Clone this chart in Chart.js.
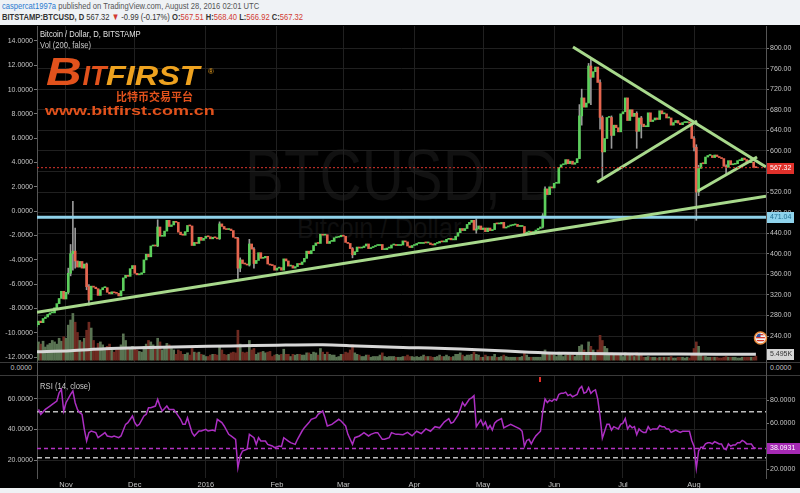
<!DOCTYPE html>
<html>
<head>
<meta charset="utf-8">
<script src="https://cdn.jsdelivr.net/npm/chart.js@4.4.0/dist/chart.umd.min.js"></script>
<style>
html, body { margin: 0; padding: 0; }
body { width: 800px; height: 493px; overflow: hidden; background: #000; position: relative; font-family: "Liberation Sans", Arial, sans-serif; }
.abs { position: absolute; white-space: nowrap; }
.sq { transform-origin: 0 50%; }
#hdr { left: 0; top: 0; width: 800px; height: 25px; background: #eff2f5; }
#hdr .l1 { left: 2px; top: 0px; font-size: 9.5px; color: #555; transform: scaleX(.8); }
#hdr .l2 { left: 2px; top: 11px; font-size: 9.5px; color: #333; transform: scaleX(.8); }
#hdr .u { color: #2a7bd0; }
#hdr .r { color: #d23a32; }
.wm { color: #111; font-weight: normal; }
.logo span { font-weight: bold; font-style: italic; }
.axl { font-size: 7px; color: #c4c4c4; }
.hline { height: 1px; background: #3a3a3a; }
</style>
</head>
<body>
<div id="hdr" class="abs">
  <div class="abs sq l1"><span class="u">caspercat1997a</span> published on TradingView.com, August 28, 2016 02:01 UTC</div>
  <div class="abs sq l2"><b>BITSTAMP:BTCUSD, D</b> 567.32 <span class="r">&#9660;</span> -0.99 (-0.17%) <b>O:</b><span class="r">567.51</span> <b>H:</b><span class="r">568.40</span> <b>L:</b><span class="r">566.92</span> <b>C:</b><span class="r">567.32</span></div>
</div>

<div class="abs sq wm" style="left:245px;top:134px;font-size:72px;transform:scaleX(.81)">BTCUSD, D</div>
<div class="abs sq wm" style="left:297px;top:211px;font-size:30px;transform:scaleX(.85);color:#0f0f0f">Bitcoin / Dollar</div>

<canvas id="main" class="abs" width="800" height="336" style="left:0;top:26px"></canvas>

<div class="abs sq" style="left:40px;top:29px;font-size:9px;color:#e0e0e0;transform:scaleX(.85)">Bitcoin / Dollar, D, BITSTAMP</div>
<div class="abs sq" style="left:40px;top:40px;font-size:9px;color:#c8c8c8;transform:scaleX(.85)">Vol (200, false)</div>

<div class="abs logo" style="left:46px;top:52px;line-height:40px">
  <span style="font-size:38px;color:#e2521c;display:inline-block;transform:scaleX(1.3);transform-origin:0 50%;margin-right:9px">B</span><span style="font-size:27px;color:#e2521c">IT</span><span style="font-size:27px;color:#eea21f;display:inline-block;transform:scaleX(1.2);transform-origin:0 50%">FIRST</span>
</div>
<div class="abs" style="left:208px;top:67px;font-size:8px;color:#eea21f">&reg;</div>
<div class="abs" style="left:116px;top:90px;font-size:11px;font-weight:bold;color:#e2521c;font-family:'Noto Sans CJK SC',sans-serif;line-height:13px">比特币交易平台</div>
<div class="abs sq" style="left:45px;top:103px;font-size:13px;font-weight:bold;color:#e2521c;transform:scaleX(1.38)">www.bitfirst.com.cn</div>

<div class="abs hline" style="left:0;top:362px;width:800px"></div>
<div class="abs hline" style="left:0;top:375px;width:800px"></div>
<div class="abs" style="left:37px;top:362px;width:1px;height:14px;background:#555"></div>
<div class="abs" style="left:766px;top:362px;width:1px;height:14px;background:#555"></div>
<div class="abs axl" style="left:0;width:32px;text-align:right;top:364px">0.0000</div>
<div class="abs axl" style="left:770px;top:364px">0.0000</div>

<canvas id="rsi" class="abs" width="800" height="112" style="left:0;top:376px"></canvas>
<div class="abs sq" style="left:40px;top:381px;font-size:9px;color:#c8c8c8;transform:scaleX(.85)">RSI (14, close)</div>

<div class="abs" style="left:0;top:488px;width:800px;height:5px;background:#eff2f5"></div>

<script>
// daily closes, Oct 19 2015 (day 0) .. Aug 28 2016 (day 314)
const closes = [
  // Oct 19-31
  262, 269, 266, 274, 277, 282, 285, 285, 295, 303, 313, 327, 312,
  // Nov
  325, 362, 400, 405, 386, 374, 385, 372, 380, 336, 310, 337, 335, 332, 319,
  330, 334, 334, 325, 322, 326, 324, 323, 318, 328, 353, 358, 356, 371, 377,
  // Dec
  362, 359, 360, 363, 388, 399, 394, 415, 417, 415, 452, 434, 434, 444, 465, 453,
  456, 463, 461, 442, 437, 436, 443, 455, 454, 416, 422, 420, 432, 426, 430,
  // Jan
  434, 433, 429, 432, 431, 429, 458, 453, 448, 447, 448, 445, 432, 430, 372, 388,
  381, 380, 378, 419, 409, 381, 387, 402, 391, 392, 395, 380, 378, 377, 368,
  // Feb
  372, 373, 368, 390, 386, 376, 377, 372, 375, 381, 379, 384, 391, 405, 400,
  406, 416, 421, 420, 438, 436, 437, 420, 424, 424, 431, 432, 433, 436,
  // Mar
  434, 422, 420, 410, 398, 404, 413, 411, 412, 415, 419, 410, 412, 414, 416, 416,
  418, 408, 408, 411, 411, 417, 418, 416, 416, 417, 425, 423, 415, 412, 416,
  // Apr
  417, 420, 420, 420, 422, 421, 421, 418, 417, 420, 421, 424, 423, 423, 428,
  430, 427, 427, 434, 441, 449, 445, 449, 457, 461, 465, 446, 448, 454, 447,
  // May
  450, 443, 450, 445, 447, 459, 458, 458, 461, 450, 452, 454, 455, 456, 457, 453,
  453, 453, 437, 442, 443, 438, 443, 446, 449, 452, 474, 526, 515, 530, 528,
  // Jun
  537, 537, 568, 573, 574, 583, 575, 580, 574, 577, 585, 668, 703, 685, 693,
  765, 743, 754, 763, 733, 665, 598, 624, 665, 665, 630, 650, 645, 637, 672,
  // Jul
  676, 703, 659, 680, 667, 673, 638, 664, 652, 647, 647, 674, 657, 660, 664, 661,
  678, 672, 672, 664, 664, 650, 655, 659, 654, 651, 655, 655, 656, 654, 624,
  // Aug 1-28
  607, 520, 566, 576, 575, 588, 591, 591, 587, 592, 589, 587, 585, 570, 568,
  581, 573, 574, 575, 581, 581, 586, 583, 579, 577, 578, 567.51, 567.32
];
const firstOpen = 258;

// visible wicks: [day, low, high]
const wicks = [
  [14, 322, 372], [15, 357, 418], [16, 368, 502], [17, 372, 450], [22, 330, 382],
  [23, 300, 340], [53, 414, 466], [80, 428, 462], [88, 352, 432], [89, 365, 392],
  [93, 376, 428], [95, 372, 412], [138, 392, 412], [192, 440, 468], [221, 450, 478],
  [222, 472, 530], [237, 585, 690], [238, 650, 720], [241, 695, 770], [242, 690, 778],
  [246, 642, 738], [247, 545, 668], [251, 605, 668], [262, 605, 676], [264, 625, 667],
  [287, 600, 628], [288, 465, 612], [289, 513, 572], [301, 553, 573]
];

// daily volume, thousands of BTC
const volumes = [
  19, 25, 22, 26, 18, 21, 23, 27, 25, 22, 30, 26, 32,
  30, 48, 55, 64, 52, 38, 27, 25, 30, 41, 52, 44, 27, 16, 23,
  25, 21, 16, 19, 22, 14, 11, 14, 16, 21, 36, 27, 15, 16, 19,
  16, 14, 12, 11, 19, 22, 27, 25, 21, 16, 30, 25, 14, 19, 23, 21,
  16, 14, 8, 14, 12, 8, 8, 10, 7, 16, 11, 10, 11, 8, 7,
  5, 5, 7, 8, 8, 7, 19, 14, 8, 7, 8, 10, 11, 10, 41, 22,
  11, 10, 11, 27, 14, 16, 8, 10, 11, 12, 10, 11, 12, 5, 7,
  8, 7, 8, 15, 8, 8, 5, 8, 7, 8, 8, 7, 7, 10, 10,
  8, 11, 10, 7, 16, 11, 8, 11, 8, 7, 7, 4, 5, 8,
  8, 11, 10, 14, 21, 10, 8, 7, 5, 5, 7, 7, 4, 5, 5, 5,
  7, 10, 5, 4, 5, 5, 5, 4, 4, 4, 5, 5, 7, 5, 5,
  4, 5, 4, 5, 7, 5, 5, 5, 4, 4, 5, 7, 5, 5, 7,
  5, 4, 5, 8, 8, 10, 7, 5, 7, 7, 8, 11, 8, 7, 4,
  4, 7, 5, 5, 5, 8, 4, 4, 5, 7, 5, 4, 4, 4, 4, 4,
  4, 5, 11, 7, 4, 4, 4, 4, 4, 4, 11, 14, 10, 8, 10,
  7, 5, 11, 8, 5, 7, 10, 7, 7, 5, 8, 19, 21, 14, 11,
  25, 19, 14, 8, 14, 34, 27, 19, 16, 8, 10, 8, 8, 7, 7,
  5, 10, 8, 7, 7, 5, 10, 7, 7, 4, 4, 5, 4, 4, 4, 3,
  4, 4, 4, 4, 4, 5, 3, 3, 4, 4, 4, 3, 4, 3, 7,
  16, 25, 19, 8, 5, 5, 4, 4, 4, 4, 4, 3, 3, 4, 5,
  4, 4, 4, 4, 3, 3, 4, 4, 4, 4, 4, 4, 5.495
];

// Vol (200) average: [day, thousands]
const volAverage = [
  [0, 11.5], [15, 13], [30, 15.5], [45, 17], [65, 18.5], [85, 19.5], [105, 20.5],
  [125, 21], [140, 19.5], [160, 17.5], [175, 16.5], [195, 14], [215, 11],
  [230, 9.5], [250, 8.8], [280, 8.4], [314, 8.2]
];

// RSI (14): [day, value]
const rsiSeries = [
  [1, 72], [2, 67.7], [4, 72], [6, 74.9], [7, 76.4], [9, 79.3], [10, 86.5], [11, 89.4],
  [12, 70.6], [13, 77.8], [15, 85.1], [16, 88], [17, 77.8], [18, 72], [19, 69.2], [20, 67.7],
  [21, 54.7], [22, 44.5], [23, 51.8], [24, 53.2], [26, 51.8], [27, 47.4], [29, 50.3], [30, 51.8],
  [31, 48.9], [33, 48], [34, 48.9], [36, 47.4], [37, 48.9], [39, 59], [40, 60.5], [42, 66.3],
  [43, 60.5], [44, 57.6], [45, 59], [47, 66.3], [48, 67.7], [49, 73.5], [50, 73.5], [52, 74.9],
  [53, 80.7], [54, 74.9], [55, 70.6], [57, 74.9], [58, 72], [60, 72], [61, 69.2], [63, 63.4],
  [64, 59], [65, 59], [66, 64.8], [68, 51.8], [69, 48.9], [71, 53.2], [72, 53.2], [74, 54.7],
  [75, 53.2], [77, 54.1], [78, 53.2], [79, 63.4], [81, 60.5], [82, 57.6], [84, 50.3], [85, 48.9],
  [87, 46], [88, 21.3], [89, 31.5], [90, 35.8], [92, 37.3], [93, 50.3], [95, 47.4], [96, 41.6],
  [97, 47.4], [98, 44.5], [100, 44.5], [101, 41.6], [103, 40.2], [104, 38.7], [106, 40.2], [107, 39.6],
  [108, 47.4], [110, 44.5], [111, 43.1], [113, 41.6], [114, 46], [116, 53.2], [117, 56.1], [119, 60.5],
  [120, 63.4], [122, 64.8], [123, 67.7], [125, 70.6], [126, 64.8], [127, 57.6], [129, 59], [130, 60.5],
  [132, 63.4], [133, 61.9], [135, 57.6], [136, 50.3], [138, 41.6], [139, 47.4], [141, 48.9], [142, 50.3],
  [143, 51.8], [145, 48.9], [146, 50.3], [148, 51.8], [149, 51.8], [151, 46], [152, 46], [154, 47.4],
  [155, 51.8], [157, 50.3], [158, 50.3], [160, 50], [162, 52], [164, 49], [166, 53], [168, 51],
  [170, 55], [172, 53], [174, 57], [176, 56], [178, 61], [180, 64], [181, 60], [182, 61],
  [184, 67], [185, 72], [186, 78], [187, 75], [188, 78], [189, 81], [190, 82], [191, 84],
  [192, 57], [193, 60], [194, 63], [195, 58], [196, 61], [197, 55], [198, 58], [199, 54],
  [200, 60], [201, 62], [203, 64], [204, 56], [205, 57], [207, 59], [209, 57], [211, 55],
  [212, 53], [213, 40], [214, 45], [215, 46], [216, 42], [217, 46], [218, 49], [219, 51],
  [220, 53], [221, 70], [222, 81], [223, 78], [224, 80], [225, 79], [226, 81], [227, 80],
  [228, 85], [229, 86], [230, 86], [231, 87], [232, 84], [233, 85], [234, 83], [235, 84],
  [236, 85], [237, 90], [238, 92], [239, 86], [240, 87], [241, 91], [242, 86], [243, 88],
  [244, 89], [245, 81], [246, 66], [247, 47], [248, 53], [249, 59], [250, 59], [251, 54],
  [252, 57], [253, 56], [254, 55], [255, 59], [256, 60], [257, 64], [258, 55], [259, 58],
  [260, 56], [261, 57], [262, 50], [263, 55], [264, 53], [265, 52], [266, 52], [267, 57],
  [268, 54], [269, 55], [270, 55], [271, 55], [272, 58], [273, 57], [274, 57], [275, 55],
  [276, 55], [277, 52], [278, 53], [279, 54], [280, 53], [281, 52], [282, 53], [283, 53],
  [284, 53], [285, 53], [286, 45], [287, 40], [288, 21], [289, 36], [290, 39], [291, 39],
  [292, 42], [293, 43], [294, 43], [295, 42], [296, 44], [297, 43], [298, 42], [299, 42],
  [300, 38], [301, 37], [302, 42], [303, 40], [304, 41], [305, 41], [306, 43], [307, 43],
  [308, 45], [309, 44], [310, 42], [311, 42], [312, 42], [313, 39], [314, 38.0931]
];
const rsiBands = [70, 30];

// drawn trend lines: [day1, price1, day2, price2]
const trendLines = [
  [0.35, 286.4, 318.4, 512],
  [234.2, 802, 318.4, 568.5],
  [244.7, 539, 288.3, 658],
  [288.7, 522, 314.5, 588]
];
const levelPrice = 471.04;

const monthStarts = [13, 43, 74, 105, 134, 165, 195, 226, 256, 287];
const monthNames = ['Nov', 'Dec', '2016', 'Feb', 'Mar', 'Apr', 'May', 'Jun', 'Jul', 'Aug'];
const priceTicks = [240, 280, 320, 360, 400, 440, 480, 520, 560, 600, 640, 680, 720, 760, 800];
const leftTicks = [-12, -10, -8, -6, -4, -2, 0, 2, 4, 6, 8, 10, 12, 14];
const rsiRightTicks = [20, 40, 60, 80];
const rsiLeftTicks = [20, 40, 60];
const eventDay = 220;
const flagDay = 316;

// view ranges
const xMin = 0.35, xMax = 318.4;
const gridColor = '#202020';
const tickColor = '#c4c4c4';
const tickFont = { family: 'Liberation Sans', size: 7 };
const upColor = '#5ccf5c', downColor = '#e5654f';

const opens = closes.map((c, i) => i ? closes[i - 1] : firstOpen);
const up = closes.map((c, i) => c >= opens[i]);
const lastClose = closes[closes.length - 1];
const lastVol = volumes[volumes.length - 1];
const lastRsi = rsiSeries[rsiSeries.length - 1][1];

const setTicks = list => s => { s.ticks = list.map(v => ({ value: v })); };
const noPad = w => s => { s.width = w; s.paddingTop = 0; s.paddingBottom = 0; };
const flat = (y, extra) => Object.assign({
  type: 'line', data: [{ x: xMin, y: y }, { x: xMax, y: y }],
  pointRadius: 0, tension: 0
}, extra);

function tag(ctx, x, y, w, text, bg, fg) {
  ctx.fillStyle = bg;
  ctx.fillRect(x, Math.round(y) - 5, w, 11);
  ctx.fillStyle = fg;
  ctx.font = '7px "Liberation Sans"';
  ctx.textBaseline = 'middle';
  ctx.textAlign = 'left';
  ctx.fillText(text, x + 3, Math.round(y) + 0.5);
}

const mainTags = {
  id: 'mainTags',
  afterDraw(chart) {
    const { ctx, chartArea, scales } = chart;
    const x = chartArea.right + 1;
    tag(ctx, x, scales.yPrice.getPixelForValue(lastClose), 27, lastClose.toFixed(2), '#e0302a', '#fff');
    tag(ctx, x, scales.yPrice.getPixelForValue(levelPrice), 27, levelPrice.toFixed(2), '#8fd3ec', '#1f6f92');
    tag(ctx, x, scales.yVol.getPixelForValue(lastVol) - 2, 27, (lastVol).toFixed(3) + 'K', '#d6d6d6', '#333');
    // economic event flag
    const fx = scales.x.getPixelForValue(flagDay), fy = chartArea.bottom - 24;
    ctx.beginPath(); ctx.arc(fx, fy, 6, 0, Math.PI * 2);
    ctx.fillStyle = '#f4f4f4'; ctx.fill();
    ctx.lineWidth = 1.5; ctx.strokeStyle = '#e8893a'; ctx.stroke();
    ctx.save(); ctx.beginPath(); ctx.arc(fx, fy, 4.5, 0, Math.PI * 2); ctx.clip();
    ctx.fillStyle = '#d8382c';
    for (let k = -4; k <= 4; k += 3) ctx.fillRect(fx - 5, fy + k, 10, 1.3);
    ctx.fillStyle = '#2c4f9e'; ctx.fillRect(fx - 5, fy - 5, 5, 4);
    ctx.restore();
  }
};

new Chart(document.getElementById('main'), {
  type: 'bar',
  data: {
    datasets: [
      flat(lastClose, { yAxisID: 'yPrice', borderColor: '#d9342c', borderWidth: 1, borderDash: [2, 2], order: 1 }),
      ...trendLines.map(t => ({
        type: 'line', yAxisID: 'yPrice',
        data: [{ x: t[0], y: t[1] }, { x: t[2], y: t[3] }],
        borderColor: '#a8d98c', borderWidth: 3, pointRadius: 0, order: 2
      })),
      flat(levelPrice, { yAxisID: 'yPrice', borderColor: '#90d2ea', borderWidth: 3, order: 3 }),
      {
        yAxisID: 'yPrice', order: 4, grouped: false, barThickness: 2, minBarLength: 1,
        data: closes.map((c, i) => ({ x: i, y: [opens[i], c] })),
        backgroundColor: up.map(u => u ? upColor : downColor)
      },
      {
        yAxisID: 'yPrice', order: 5, grouped: false, barThickness: 1,
        data: wicks.map(w => ({ x: w[0], y: [w[1], w[2]] })),
        backgroundColor: '#9a9a9a'
      },
      {
        type: 'line', yAxisID: 'yVol', order: 6,
        data: volAverage.map(p => ({ x: p[0], y: p[1] })),
        borderColor: '#d6d6d6', borderWidth: 3, pointRadius: 0, tension: 0.3
      },
      {
        yAxisID: 'yVol', order: 7, grouped: false, barThickness: 2,
        data: volumes.map((v, i) => ({ x: i, y: v })),
        backgroundColor: up.map(u => u ? '#5a7453' : '#6e2a21')
      }
    ]
  },
  options: {
    responsive: false, animation: false, events: [], devicePixelRatio: 1,
    layout: { padding: 0 },
    plugins: { legend: { display: false }, tooltip: { enabled: false } },
    scales: {
      x: {
        type: 'linear', min: xMin, max: xMax, offset: false,
        afterBuildTicks: setTicks(monthStarts),
        ticks: { display: false },
        grid: { color: gridColor, drawTicks: false, offset: false },
        border: { display: false },
        afterFit: s => { s.height = 0; }
      },
      yPrice: {
        position: 'right', min: 189.5, max: 842.8,
        afterBuildTicks: setTicks(priceTicks),
        ticks: { color: tickColor, font: tickFont, padding: 1, callback: v => v.toFixed(2) },
        grid: { color: gridColor, tickLength: 3, tickColor: '#777' },
        border: { color: '#555' },
        afterFit: noPad(34)
      },
      yLeft: {
        position: 'left', min: -12.41, max: 15.23,
        afterBuildTicks: setTicks(leftTicks),
        ticks: { color: tickColor, font: tickFont, padding: 1, callback: v => v.toFixed(4) },
        grid: { drawOnChartArea: false, tickLength: 3, tickColor: '#777' },
        border: { color: '#555' },
        afterFit: noPad(37)
      },
      yVol: { display: false, min: -2.5, max: 457.8 }
    }
  },
  plugins: [mainTags]
});

const rsiTags = {
  id: 'rsiTags',
  afterDraw(chart) {
    const { ctx, chartArea, scales } = chart;
    tag(ctx, chartArea.right + 1, scales.yR.getPixelForValue(lastRsi), 34, lastRsi.toFixed(4), '#a529b3', '#fff');
    ctx.fillStyle = '#e0302a';
    ctx.fillRect(Math.round(scales.x.getPixelForValue(eventDay)) - 1, chartArea.top + 1, 2, 5);
  }
};

new Chart(document.getElementById('rsi'), {
  type: 'line',
  data: {
    datasets: [
      {
        data: rsiSeries.map(p => ({ x: p[0], y: p[1] })), yAxisID: 'yR',
        borderColor: '#ac2fc2', borderWidth: 1.5, pointRadius: 0, tension: 0, order: 1
      },
      flat(lastRsi, { yAxisID: 'yR', borderColor: '#b332c4', borderWidth: 1.5, borderDash: [4, 3], order: 2 }),
      ...rsiBands.map(b => flat(b, { yAxisID: 'yR', borderColor: '#bdbdbd', borderWidth: 1.5, borderDash: [5, 3], order: 3 }))
    ]
  },
  options: {
    responsive: false, animation: false, events: [], devicePixelRatio: 1,
    layout: { padding: 0 },
    plugins: { legend: { display: false }, tooltip: { enabled: false } },
    scales: {
      x: {
        type: 'linear', min: xMin, max: xMax, offset: false,
        afterBuildTicks: setTicks(monthStarts),
        ticks: { color: tickColor, font: { family: 'Liberation Sans', size: 7.5 }, padding: 2, autoSkip: false, maxRotation: 0,
                 callback: v => monthNames[monthStarts.indexOf(v)] },
        grid: { color: gridColor, drawTicks: false },
        border: { display: false },
        afterFit: s => { s.height = 10; s.paddingLeft = 0; s.paddingRight = 0; }
      },
      yR: {
        position: 'right', min: 12.35, max: 101.04,
        afterBuildTicks: setTicks(rsiRightTicks),
        ticks: { color: tickColor, font: tickFont, padding: 1, callback: v => v.toFixed(4) },
        grid: { drawOnChartArea: false, tickLength: 3, tickColor: '#777' },
        border: { color: '#555' },
        afterFit: noPad(34)
      },
      yL: {
        position: 'left', min: 8.2, max: 75.08,
        afterBuildTicks: setTicks(rsiLeftTicks),
        ticks: { color: tickColor, font: tickFont, padding: 1, callback: v => v.toFixed(4) },
        grid: { color: gridColor, tickLength: 3, tickColor: '#777' },
        border: { color: '#555' },
        afterFit: noPad(37)
      }
    }
  },
  plugins: [rsiTags]
});
</script>
</body>
</html>
